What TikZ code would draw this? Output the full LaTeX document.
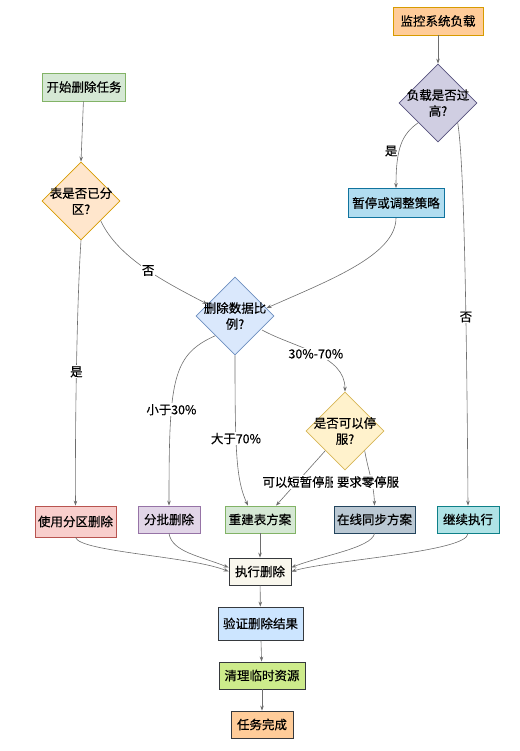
\documentclass[tikz,border=0pt]{standalone}
\usepackage{fontspec}
\setmainfont{Noto Sans CJK SC}[FakeBold=0.4]
\usetikzlibrary{shapes.geometric,arrows.meta,calc}
\definecolor{edgec}{HTML}{6E6E6E}
\tikzset{
  box/.style={draw, line width=0.8pt, inner sep=0pt, font=\fontsize{12.5}{14}\selectfont},
  dia/.style={draw, diamond, line width=0.8pt, minimum width=78pt, minimum height=78pt, inner sep=0pt},
  diatext/.style={align=center, font=\fontsize{12.5}{16}\selectfont, inner sep=0pt},
  conn/.style={draw=edgec, line width=0.6pt, -{Stealth[length=5pt,width=3.6pt]}},
  elabel/.style={fill=white, inner sep=1pt, font=\fontsize{12.4}{13}\selectfont}
}
\begin{document}
\begin{tikzpicture}[x=1pt,y=-1pt]
\useasboundingbox (0,0) rectangle (519,751);
% top boxes
\node[box, fill={rgb,255:red,255;green,204;blue,153}, draw={rgb,255:red,215;green,155;blue,0}, minimum width=90pt, minimum height=28pt] (mon) at (438,21) {监控系统负载};
\node[dia, fill={rgb,255:red,208;green,206;blue,226}, draw={rgb,255:red,86;green,81;blue,126}] (load) at (438,103) {};
\node[diatext] (loadt) at (438,103) {负载是否过\\高?};
\node[box, fill={rgb,255:red,213;green,232;blue,212}, draw={rgb,255:red,130;green,179;blue,102}, minimum width=83pt, minimum height=28pt] (start) at (84,87) {开始删除任务};
\node[dia, fill={rgb,255:red,255;green,230;blue,204}, draw={rgb,255:red,215;green,155;blue,0}] (part) at (81,201) {};
\node[diatext] (partt) at (81,201) {表是否已分\\区?};
\node[box, fill={rgb,255:red,177;green,221;blue,240}, draw={rgb,255:red,16;green,115;blue,158}, minimum width=96pt, minimum height=29pt] (pause) at (396,203) {暂停或调整策略};
\node[dia, fill={rgb,255:red,218;green,232;blue,252}, draw={rgb,255:red,108;green,142;blue,191}] (ratio) at (235,316) {};
\node[diatext] (ratiot) at (235,316) {删除数据比\\例?};
\node[dia, fill={rgb,255:red,255;green,242;blue,204}, draw={rgb,255:red,214;green,182;blue,86}] (stop) at (345,431) {};
\node[diatext] (stopt) at (345,431) {是否可以停\\服?};
% row
\node[box, fill={rgb,255:red,248;green,206;blue,204}, draw={rgb,255:red,184;green,84;blue,80}, minimum width=81pt, minimum height=31pt] (usep) at (75.5,521.5) {使用分区删除};
\node[box, fill={rgb,255:red,225;green,213;blue,231}, draw={rgb,255:red,150;green,115;blue,166}, minimum width=62pt, minimum height=27pt] (batch) at (169,519.5) {分批删除};
\node[box, fill={rgb,255:red,213;green,232;blue,212}, draw={rgb,255:red,130;green,179;blue,102}, minimum width=70pt, minimum height=27pt] (rebuild) at (260,519.5) {重建表方案};
\node[box, fill={rgb,255:red,186;green,200;blue,211}, draw={rgb,255:red,35;green,68;blue,93}, minimum width=81pt, minimum height=27pt] (online) at (374.5,519.5) {在线同步方案};
\node[box, fill={rgb,255:red,176;green,227;blue,230}, draw={rgb,255:red,14;green,128;blue,136}, minimum width=62pt, minimum height=27pt] (cont) at (468,519.5) {继续执行};
% bottom chain
\node[box, fill={rgb,255:red,249;green,247;blue,237}, draw={rgb,255:red,54;green,57;blue,61}, minimum width=62pt, minimum height=27pt] (exec) at (260,571.5) {执行删除};
\node[box, fill={rgb,255:red,204;green,229;blue,255}, draw={rgb,255:red,54;green,57;blue,61}, minimum width=85pt, minimum height=33pt] (verify) at (260.5,623.5) {验证删除结果};
\node[box, fill={rgb,255:red,205;green,235;blue,139}, draw={rgb,255:red,54;green,57;blue,61}, minimum width=86pt, minimum height=27pt] (clean) at (262,675.5) {清理临时资源};
\node[box, fill={rgb,255:red,255;green,204;blue,153}, draw={rgb,255:red,54;green,57;blue,61}, minimum width=62pt, minimum height=27pt] (done) at (262,724.5) {任务完成};
% helper coordinates
\coordinate (ratioIn) at ($(ratio.north east)!0.6!(ratio.east)$);
\coordinate (ratioInL) at ($(ratio.west)!0.3!(ratio.north)$);
\coordinate (execL1) at ($(exec.west)+(0,-4)$);
\coordinate (execL2) at ($(exec.west)+(0,0)$);
\coordinate (execR1) at ($(exec.east)+(0,-4)$);
\coordinate (execR2) at ($(exec.east)+(0,0)$);
% edges
\draw[conn] (mon) -- (load.north);
\draw[conn] (start) -- (part.north);
\draw[conn] (load.south west) .. controls (402,134) and (396,148) .. node[elabel, pos=0.6, xshift=-8pt, fill=none] (lyes) {是} (pause.north);
\draw[conn] (load.south east) .. controls (462,150) and (466,230) .. node[elabel, pos=0.72] (lno) {否} (cont.north);
\draw[conn] (pause.south) .. controls (396,255) and (330,280) .. (ratioIn);
\draw[conn] (part.south east) .. controls (118,258) and (165,282) .. node[elabel, pos=0.53] (pno) {否} (ratioInL);
\draw[conn] (part.south) .. controls (77,300) and (75,420) .. node[elabel, pos=0.53] (pyes) {是} (usep.north);
\draw[conn] (ratio.south west) .. controls (172,355) and (169,380) .. node[elabel, pos=0.665] (lt30) {小于30\%} (batch.north);
\draw[conn] (ratio.south) .. controls (235,450) and (236,480) .. node[elabel, pos=0.38] (gt70) {大于70\%} (rebuild.north west -| 248,506);
\draw[conn] (262,330) .. controls (295,348) and (345,355) .. node[elabel, pos=0.5] (mid) {30\%-70\%} (stop.north);
\draw[conn] (stop.south west) -- node[elabel, pos=0.57, xshift=2.5pt] (canstop) {可以短暂停服} (rebuild.north east -| 276,506);
\draw[conn] (stop.south east) .. controls (368,470) and (374,485) .. (online.north);
\node[elabel, inner xsep=4pt] (nostopt) at (368,482) {要求零停服};
\draw[conn] (usep.south) .. controls (80,552) and (190,556) .. (execL2);
\draw[conn] (batch.south) .. controls (172,552) and (200,556) .. (execL1);
\draw[conn] (rebuild) -- (exec);
\draw[conn] (online.south) .. controls (372,548) and (320,556) .. (execR1);
\draw[conn] (cont.south) .. controls (468,552) and (330,560) .. (execR2);
\draw[conn] (exec) -- (verify);
\draw[conn] (verify) -- (clean);
\draw[conn] (clean) -- (done);
\end{tikzpicture}
\end{document}
